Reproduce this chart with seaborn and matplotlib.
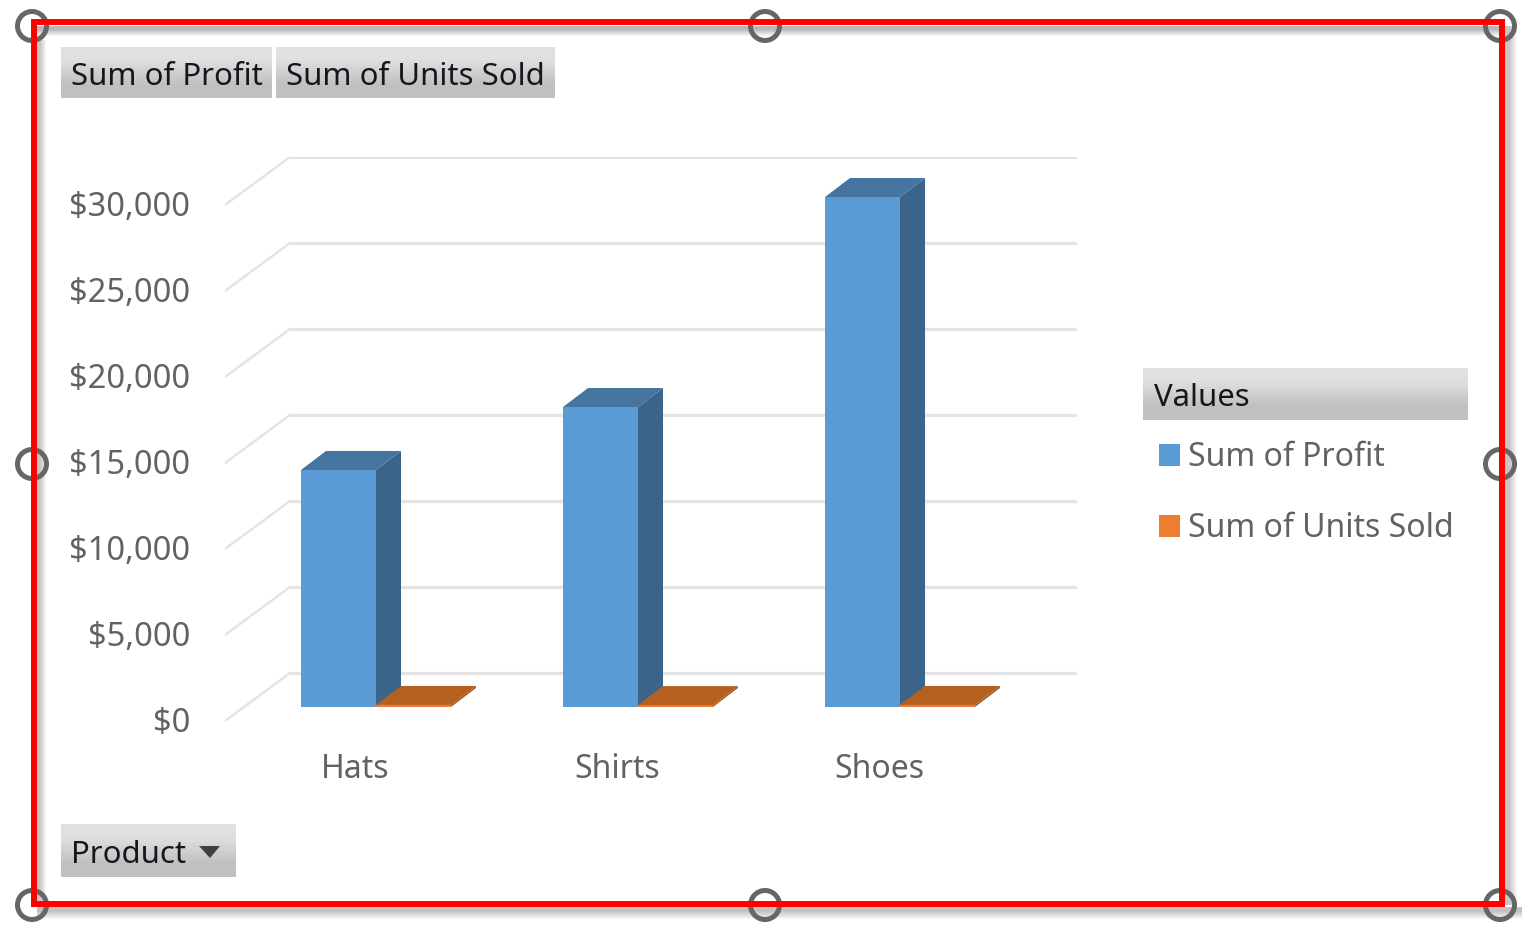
import pandas as pd
import matplotlib
matplotlib.use('Agg')
import matplotlib.pyplot as plt
import seaborn as sns
from matplotlib.patches import Circle, Patch, Polygon, Rectangle
from matplotlib.transforms import ScaledTranslation

# Values
products = ['Hats', 'Shirts', 'Shoes']
profit = [13780, 17440, 29650]
units_sold = [120, 110, 120]
series_names = ['Sum of Profit', 'Sum of Units Sold']
y_ticks = [0, 5000, 10000, 15000, 20000, 25000, 30000]
y_tick_labels = ['$0', '$5,000', '$10,000', '$15,000', '$20,000', '$25,000', '$30,000']

FACE = ['#5B9BD5', '#ED7D31']
SIDE = ['#3A6489', '#9E5A26']
TOP = ['#44749F', '#B5601F']
GRID = '#E3E3E3'
TEXT = '#626262'
BTN_TEXT = '#16161E'
FONT = 'Noto Sans'
FS = 23
W, H = 1536, 932

sns.set_theme(style='white')
plt.rcParams['font.family'] = [FONT, 'DejaVu Sans']

df = pd.DataFrame({
    'Product': products * 2,
    'Series': [series_names[0]] * 3 + [series_names[1]] * 3,
    'Value': profit + units_sold,
})

fig = plt.figure(figsize=(W / 100, H / 100), dpi=100, facecolor='white')

# plot area in picture pixels
left, right, top, bottom = 225, 1077, 157, 721
ax = fig.add_axes([left / W, 1 - bottom / H, (right - left) / W, (bottom - top) / H])
ax.patch.set_alpha(0)

sns.barplot(data=df, x='Product', y='Value', hue='Series', order=products,
            hue_order=series_names, palette=FACE, width=0.5725, gap=0,
            saturation=1, legend=False, ax=ax)

# one picture pixel in data units
px_x = 1 / 262
px_y = 5000 / 86
ax.set_xlim((left - 376) * px_x, (right - 376) * px_x)
ax.set_ylim(-(bottom - 707) * px_y, (707 - top) * px_y)

# back wall and floor gridlines
for v in y_ticks:
    wall = v + 34 * px_y
    ax.plot([(290 - 376) * px_x, (right - 376) * px_x], [wall, wall],
            color=GRID, lw=2.3, zorder=0.5, solid_capstyle='butt')
    ax.plot([(225 - 376) * px_x, (290 - 376) * px_x], [v - 14 * px_y, wall],
            color=GRID, lw=1.7, zorder=0.5)

# 3D sides and tops on the bars seaborn drew
depth_x = 25 * px_x
depth_y = 19 * px_y
bars = list(ax.patches)
for i, bar in enumerate(bars):
    s = i // 3
    x0 = bar.get_x()
    x1 = x0 + bar.get_width()
    h = bar.get_height()
    bar.set_linewidth(0)
    bar.set_zorder(3 + s)
    ax.add_patch(Polygon([(x1, 0), (x1 + depth_x, depth_y), (x1 + depth_x, h + depth_y), (x1, h)],
                         fc=SIDE[s], ec='none', zorder=3 + s))
    ax.add_patch(Polygon([(x0, h), (x0 + depth_x, h + depth_y), (x1 + depth_x, h + depth_y), (x1, h)],
                         fc=TOP[s], ec='none', zorder=3 + s))

sns.despine(ax=ax, left=True, bottom=True)
ax.set_xlabel('')
ax.set_ylabel('')
ax.set_yticks(y_ticks)
ax.set_yticklabels(y_tick_labels)
ax.tick_params(axis='y', length=0, pad=25, labelsize=FS + 0.5, labelcolor=TEXT)
ax.tick_params(axis='x', length=0, pad=23, labelsize=FS, labelcolor=TEXT)

# tick labels sit on the front edge, not on the bar plane
for lab in ax.get_yticklabels():
    lab.set_transform(lab.get_transform() + ScaledTranslation(0, -12 / 100, fig.dpi_scale_trans))
for lab in ax.get_xticklabels():
    lab.set_transform(lab.get_transform() + ScaledTranslation(-21 / 100, 0, fig.dpi_scale_trans))

leg_handles = [Patch(fc=FACE[0], ec='none'), Patch(fc=FACE[1], ec='none')]
leg = ax.legend(leg_handles, series_names, loc='upper left',
                bbox_to_anchor=(1159 / W, 1 - 441 / H), bbox_transform=fig.transFigure,
                frameon=False, fontsize=FS, labelcolor=TEXT, borderpad=0, borderaxespad=0,
                handlelength=0.66, handleheight=0.66, handletextpad=0.25, labelspacing=1.19)

# overlay in picture pixels: frame, shadow, field buttons, handles
ov = fig.add_axes([0, 0, 1, 1], zorder=5)
ov.patch.set_alpha(0)
ov.axis('off')


def gradient(x0, x1, y0, y1, start, end, vertical=True, z=1):
    arr = [[start], [end]] if vertical else [[start, end]]
    ov.imshow(arr, cmap='gray', vmin=0, vmax=1, extent=(x0, x1, y1, y0), aspect='auto',
              interpolation='bilinear', zorder=z)


# shadow of the chart object
gradient(37, 50, 28, 905, 0.78, 1, vertical=False)
gradient(37, 1499, 26, 40, 0.72, 1)
gradient(1505, 1522, 26, 905, 0.78, 1, vertical=False)
gradient(37, 1522, 907, 924, 0.76, 1)


def button(x0, x1, y0, y1, label, text_x):
    gradient(x0, x1, y0, y1, 0.875, 0.75, z=2)
    ov.text(text_x, (y0 + y1) / 2 + 1, label, color=BTN_TEXT, fontsize=FS - 0.6,
            va='center_baseline', zorder=3)


button(61, 272, 47, 98, 'Sum of Profit', 71)
button(276, 555, 47, 98, 'Sum of Units Sold', 286)
button(1143, 1468, 368, 420, 'Values', 1154)
button(61, 236, 824, 877, 'Product', 71)
ov.add_patch(Polygon([(199, 846), (220, 846), (210, 858)], fc='#404040', ec='none', zorder=3))

for cx in (32, 765, 1500):
    for cy in (26, 464, 905):
        if cx == 765 and cy == 464:
            continue
        ov.add_patch(Circle((cx, cy), 14.5, fill=False, ec='#666666', lw=3.6, zorder=4))

ov.add_patch(Rectangle((34, 22), 1468, 882, fill=False, ec='#FF0000', lw=4.3, zorder=5,
                       joinstyle='miter'))

ov.set_xlim(0, W)
ov.set_ylim(H, 0)

fig.savefig('out.png', dpi=100)
plt.close()
